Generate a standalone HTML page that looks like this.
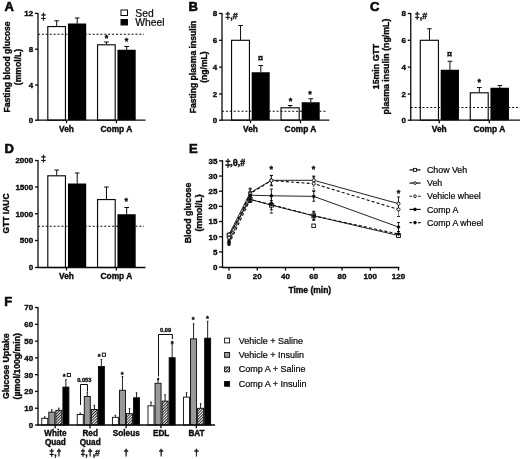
<!DOCTYPE html>
<html><head><meta charset="utf-8"><title>Figure</title>
<style>html,body{margin:0;padding:0;background:#fff}svg{display:block;font-family:"Liberation Sans",sans-serif}</style></head>
<body>
<svg width="520" height="459" viewBox="0 0 520 459">
<rect width="520" height="459" fill="#fff"/>
<line x1="38" y1="12.9" x2="38" y2="120.7" stroke="#0a0a0a" stroke-width="1.3"/>
<line x1="35" y1="13.4" x2="38" y2="13.4" stroke="#0a0a0a" stroke-width="1.3"/>
<text x="33.2" y="16.3" font-size="8" text-anchor="end" font-weight="bold" stroke="#0a0a0a" stroke-width="0.35" fill="#0a0a0a">12</text>
<line x1="35" y1="49.2" x2="38" y2="49.2" stroke="#0a0a0a" stroke-width="1.3"/>
<text x="33.2" y="52.1" font-size="8" text-anchor="end" font-weight="bold" stroke="#0a0a0a" stroke-width="0.35" fill="#0a0a0a">8</text>
<line x1="35" y1="85" x2="38" y2="85" stroke="#0a0a0a" stroke-width="1.3"/>
<text x="33.2" y="87.9" font-size="8" text-anchor="end" font-weight="bold" stroke="#0a0a0a" stroke-width="0.35" fill="#0a0a0a">4</text>
<line x1="35" y1="120.2" x2="38" y2="120.2" stroke="#0a0a0a" stroke-width="1.3"/>
<text x="33.2" y="123.10000000000001" font-size="8" text-anchor="end" font-weight="bold" stroke="#0a0a0a" stroke-width="0.35" fill="#0a0a0a">0</text>
<line x1="56.7" y1="20.75" x2="56.7" y2="26.25" stroke="#0a0a0a" stroke-width="1.0"/>
<line x1="54.400000000000006" y1="20.75" x2="59.0" y2="20.75" stroke="#0a0a0a" stroke-width="1.0"/>
<rect x="47.80" y="26.55" width="17.65" height="93.65" fill="#fff" stroke="#0a0a0a" stroke-width="1.15"/>
<line x1="77.2" y1="18" x2="77.2" y2="23.75" stroke="#0a0a0a" stroke-width="1.0"/>
<line x1="74.9" y1="18" x2="79.5" y2="18" stroke="#0a0a0a" stroke-width="1.0"/>
<rect x="67.95" y="23.50" width="18.25" height="96.70" fill="#000"/>
<line x1="106.45" y1="42" x2="106.45" y2="44.5" stroke="#0a0a0a" stroke-width="1.0"/>
<line x1="104.15" y1="42" x2="108.75" y2="42" stroke="#0a0a0a" stroke-width="1.0"/>
<rect x="97.55" y="44.80" width="17.65" height="75.40" fill="#fff" stroke="#0a0a0a" stroke-width="1.15"/>
<line x1="126.7" y1="46.5" x2="126.7" y2="50" stroke="#0a0a0a" stroke-width="1.0"/>
<line x1="124.4" y1="46.5" x2="129.0" y2="46.5" stroke="#0a0a0a" stroke-width="1.0"/>
<rect x="117.45" y="49.75" width="18.25" height="70.45" fill="#000"/>
<line x1="38" y1="34.3" x2="144" y2="34.3" stroke="#0a0a0a" stroke-width="1.05" stroke-dasharray="2 1.9"/>
<line x1="37.5" y1="120.2" x2="145.5" y2="120.2" stroke="#0a0a0a" stroke-width="1.3"/>
<line x1="66.5" y1="120.2" x2="66.5" y2="123.2" stroke="#0a0a0a" stroke-width="1.3"/>
<text x="66.5" y="132.1" font-size="8.4" text-anchor="middle" font-weight="bold" stroke="#0a0a0a" stroke-width="0.35" fill="#0a0a0a">Veh</text>
<line x1="116.4" y1="120.2" x2="116.4" y2="123.2" stroke="#0a0a0a" stroke-width="1.3"/>
<text x="116.4" y="132.1" font-size="8.4" text-anchor="middle" font-weight="bold" stroke="#0a0a0a" stroke-width="0.35" fill="#0a0a0a">Comp A</text>
<text x="4.5" y="11.4" font-size="13" text-anchor="start" font-weight="bold" stroke="#0a0a0a" stroke-width="0.6" fill="#0a0a0a">A</text>
<text x="10" y="67" font-size="8.6" text-anchor="middle" font-weight="bold" stroke="#0a0a0a" stroke-width="0.35" transform="rotate(-90 10 67)" fill="#0a0a0a">Fasting blood glucose</text>
<text x="21.3" y="67" font-size="8.6" text-anchor="middle" font-weight="bold" stroke="#0a0a0a" stroke-width="0.35" transform="rotate(-90 21.3 67)" fill="#0a0a0a">(mmol/L)</text>
<text x="43.6" y="19.5" font-size="9" text-anchor="middle" font-weight="bold" stroke="#0a0a0a" stroke-width="0.35" fill="#0a0a0a">‡</text>
<text x="106.5" y="41.3" font-size="9" text-anchor="middle" font-weight="bold" stroke="#0a0a0a" stroke-width="0.35" fill="#0a0a0a">*</text>
<text x="126.5" y="44" font-size="9" text-anchor="middle" font-weight="bold" stroke="#0a0a0a" stroke-width="0.35" fill="#0a0a0a">*</text>
<rect x="121.00" y="10.00" width="6.50" height="5.50" fill="#fff" stroke="#0a0a0a" stroke-width="1"/>
<rect x="121.00" y="19.50" width="6.50" height="5.50" fill="#000" stroke="#0a0a0a" stroke-width="1"/>
<text x="135.3" y="16.5" font-size="10.3" text-anchor="start" stroke="#0a0a0a" stroke-width="0.22" fill="#0a0a0a">Sed</text>
<text x="135.3" y="26.3" font-size="10.3" text-anchor="start" stroke="#0a0a0a" stroke-width="0.22" fill="#0a0a0a">Wheel</text>
<line x1="222" y1="12.9" x2="222" y2="120.7" stroke="#0a0a0a" stroke-width="1.3"/>
<line x1="219" y1="13.5" x2="222" y2="13.5" stroke="#0a0a0a" stroke-width="1.3"/>
<text x="217.2" y="16.4" font-size="8" text-anchor="end" font-weight="bold" stroke="#0a0a0a" stroke-width="0.35" fill="#0a0a0a">8</text>
<line x1="219" y1="40.3" x2="222" y2="40.3" stroke="#0a0a0a" stroke-width="1.3"/>
<text x="217.2" y="43.199999999999996" font-size="8" text-anchor="end" font-weight="bold" stroke="#0a0a0a" stroke-width="0.35" fill="#0a0a0a">6</text>
<line x1="219" y1="67.1" x2="222" y2="67.1" stroke="#0a0a0a" stroke-width="1.3"/>
<text x="217.2" y="70.0" font-size="8" text-anchor="end" font-weight="bold" stroke="#0a0a0a" stroke-width="0.35" fill="#0a0a0a">4</text>
<line x1="219" y1="94" x2="222" y2="94" stroke="#0a0a0a" stroke-width="1.3"/>
<text x="217.2" y="96.9" font-size="8" text-anchor="end" font-weight="bold" stroke="#0a0a0a" stroke-width="0.35" fill="#0a0a0a">2</text>
<line x1="219" y1="120.2" x2="222" y2="120.2" stroke="#0a0a0a" stroke-width="1.3"/>
<text x="217.2" y="123.10000000000001" font-size="8" text-anchor="end" font-weight="bold" stroke="#0a0a0a" stroke-width="0.35" fill="#0a0a0a">0</text>
<line x1="240.575" y1="25.5" x2="240.575" y2="40" stroke="#0a0a0a" stroke-width="1.0"/>
<line x1="238.27499999999998" y1="25.5" x2="242.875" y2="25.5" stroke="#0a0a0a" stroke-width="1.0"/>
<rect x="231.55" y="40.30" width="17.90" height="79.90" fill="#fff" stroke="#0a0a0a" stroke-width="1.15"/>
<line x1="260.825" y1="65.5" x2="260.825" y2="72.5" stroke="#0a0a0a" stroke-width="1.0"/>
<line x1="258.525" y1="65.5" x2="263.125" y2="65.5" stroke="#0a0a0a" stroke-width="1.0"/>
<rect x="251.70" y="72.25" width="18.00" height="47.95" fill="#000"/>
<line x1="290.2" y1="105.5" x2="290.2" y2="107.5" stroke="#0a0a0a" stroke-width="1.0"/>
<line x1="287.9" y1="105.5" x2="292.5" y2="105.5" stroke="#0a0a0a" stroke-width="1.0"/>
<rect x="281.05" y="107.80" width="18.15" height="12.40" fill="#fff" stroke="#0a0a0a" stroke-width="1.15"/>
<line x1="310.825" y1="98.75" x2="310.825" y2="102.5" stroke="#0a0a0a" stroke-width="1.0"/>
<line x1="308.525" y1="98.75" x2="313.125" y2="98.75" stroke="#0a0a0a" stroke-width="1.0"/>
<rect x="301.70" y="102.25" width="18.00" height="17.95" fill="#000"/>
<line x1="222" y1="111.2" x2="327" y2="111.2" stroke="#0a0a0a" stroke-width="1.05" stroke-dasharray="2 1.9"/>
<line x1="221.5" y1="120.2" x2="329.3" y2="120.2" stroke="#0a0a0a" stroke-width="1.3"/>
<line x1="250.5" y1="120.2" x2="250.5" y2="123.2" stroke="#0a0a0a" stroke-width="1.3"/>
<text x="250.5" y="132.1" font-size="8.4" text-anchor="middle" font-weight="bold" stroke="#0a0a0a" stroke-width="0.35" fill="#0a0a0a">Veh</text>
<line x1="300.5" y1="120.2" x2="300.5" y2="123.2" stroke="#0a0a0a" stroke-width="1.3"/>
<text x="300.5" y="132.1" font-size="8.4" text-anchor="middle" font-weight="bold" stroke="#0a0a0a" stroke-width="0.35" fill="#0a0a0a">Comp A</text>
<text x="188.5" y="11.4" font-size="13" text-anchor="start" font-weight="bold" stroke="#0a0a0a" stroke-width="0.6" fill="#0a0a0a">B</text>
<text x="195.6" y="67" font-size="8.6" text-anchor="middle" font-weight="bold" stroke="#0a0a0a" stroke-width="0.35" transform="rotate(-90 195.6 67)" fill="#0a0a0a">Fasting plasma insulin</text>
<text x="206.6" y="67" font-size="8.6" text-anchor="middle" font-weight="bold" stroke="#0a0a0a" stroke-width="0.35" transform="rotate(-90 206.6 67)" fill="#0a0a0a">(ng/mL)</text>
<text x="231.5" y="19.3" font-size="9" text-anchor="middle" font-weight="bold" stroke="#0a0a0a" stroke-width="0.35" fill="#0a0a0a">‡,#</text>
<text x="260.5" y="60.5" font-size="9" text-anchor="middle" font-weight="bold" stroke="#0a0a0a" stroke-width="0.35" fill="#0a0a0a">¤</text>
<text x="290.5" y="103.6" font-size="9" text-anchor="middle" font-weight="bold" stroke="#0a0a0a" stroke-width="0.35" fill="#0a0a0a">*</text>
<text x="310" y="97.4" font-size="9" text-anchor="middle" font-weight="bold" stroke="#0a0a0a" stroke-width="0.35" fill="#0a0a0a">*</text>
<line x1="410.75" y1="12.9" x2="410.75" y2="120.7" stroke="#0a0a0a" stroke-width="1.3"/>
<line x1="407.75" y1="13.5" x2="410.75" y2="13.5" stroke="#0a0a0a" stroke-width="1.3"/>
<text x="405.95" y="16.4" font-size="8" text-anchor="end" font-weight="bold" stroke="#0a0a0a" stroke-width="0.35" fill="#0a0a0a">8</text>
<line x1="407.75" y1="40.3" x2="410.75" y2="40.3" stroke="#0a0a0a" stroke-width="1.3"/>
<text x="405.95" y="43.199999999999996" font-size="8" text-anchor="end" font-weight="bold" stroke="#0a0a0a" stroke-width="0.35" fill="#0a0a0a">6</text>
<line x1="407.75" y1="67.1" x2="410.75" y2="67.1" stroke="#0a0a0a" stroke-width="1.3"/>
<text x="405.95" y="70.0" font-size="8" text-anchor="end" font-weight="bold" stroke="#0a0a0a" stroke-width="0.35" fill="#0a0a0a">4</text>
<line x1="407.75" y1="94" x2="410.75" y2="94" stroke="#0a0a0a" stroke-width="1.3"/>
<text x="405.95" y="96.9" font-size="8" text-anchor="end" font-weight="bold" stroke="#0a0a0a" stroke-width="0.35" fill="#0a0a0a">2</text>
<line x1="407.75" y1="120.2" x2="410.75" y2="120.2" stroke="#0a0a0a" stroke-width="1.3"/>
<text x="405.95" y="123.10000000000001" font-size="8" text-anchor="end" font-weight="bold" stroke="#0a0a0a" stroke-width="0.35" fill="#0a0a0a">0</text>
<line x1="429.45" y1="28.75" x2="429.45" y2="40" stroke="#0a0a0a" stroke-width="1.0"/>
<line x1="427.15" y1="28.75" x2="431.75" y2="28.75" stroke="#0a0a0a" stroke-width="1.0"/>
<rect x="420.30" y="40.30" width="18.15" height="79.90" fill="#fff" stroke="#0a0a0a" stroke-width="1.15"/>
<line x1="449.95" y1="61.25" x2="449.95" y2="70" stroke="#0a0a0a" stroke-width="1.0"/>
<line x1="447.65" y1="61.25" x2="452.25" y2="61.25" stroke="#0a0a0a" stroke-width="1.0"/>
<rect x="440.70" y="69.75" width="18.25" height="50.45" fill="#000"/>
<line x1="479.325" y1="87.5" x2="479.325" y2="92.5" stroke="#0a0a0a" stroke-width="1.0"/>
<line x1="477.025" y1="87.5" x2="481.625" y2="87.5" stroke="#0a0a0a" stroke-width="1.0"/>
<rect x="470.30" y="92.80" width="17.90" height="27.40" fill="#fff" stroke="#0a0a0a" stroke-width="1.15"/>
<line x1="499.825" y1="85.5" x2="499.825" y2="88" stroke="#0a0a0a" stroke-width="1.0"/>
<line x1="497.525" y1="85.5" x2="502.125" y2="85.5" stroke="#0a0a0a" stroke-width="1.0"/>
<rect x="490.45" y="87.75" width="18.50" height="32.45" fill="#000"/>
<line x1="410.75" y1="107.5" x2="520" y2="107.5" stroke="#0a0a0a" stroke-width="1.05" stroke-dasharray="2 1.9"/>
<line x1="410.25" y1="120.2" x2="520" y2="120.2" stroke="#0a0a0a" stroke-width="1.3"/>
<line x1="439.3" y1="120.2" x2="439.3" y2="123.2" stroke="#0a0a0a" stroke-width="1.3"/>
<text x="439.3" y="132.1" font-size="8.4" text-anchor="middle" font-weight="bold" stroke="#0a0a0a" stroke-width="0.35" fill="#0a0a0a">Veh</text>
<line x1="489.3" y1="120.2" x2="489.3" y2="123.2" stroke="#0a0a0a" stroke-width="1.3"/>
<text x="489.3" y="132.1" font-size="8.4" text-anchor="middle" font-weight="bold" stroke="#0a0a0a" stroke-width="0.35" fill="#0a0a0a">Comp A</text>
<text x="370" y="11.4" font-size="13" text-anchor="start" font-weight="bold" stroke="#0a0a0a" stroke-width="0.6" fill="#0a0a0a">C</text>
<text x="378.5" y="66.5" font-size="8.8" text-anchor="middle" font-weight="bold" stroke="#0a0a0a" stroke-width="0.35" transform="rotate(-90 378.5 66.5)" fill="#0a0a0a">15min GTT</text>
<text x="389.4" y="66.5" font-size="8.8" text-anchor="middle" font-weight="bold" stroke="#0a0a0a" stroke-width="0.35" transform="rotate(-90 389.4 66.5)" fill="#0a0a0a">plasma insulin (ng/mL)</text>
<text x="421" y="19.3" font-size="9" text-anchor="middle" font-weight="bold" stroke="#0a0a0a" stroke-width="0.35" fill="#0a0a0a">‡,#</text>
<text x="449.5" y="56.5" font-size="9" text-anchor="middle" font-weight="bold" stroke="#0a0a0a" stroke-width="0.35" fill="#0a0a0a">¤</text>
<text x="479.3" y="84.8" font-size="9" text-anchor="middle" font-weight="bold" stroke="#0a0a0a" stroke-width="0.35" fill="#0a0a0a">*</text>
<line x1="38" y1="160.0" x2="38" y2="268.0" stroke="#0a0a0a" stroke-width="1.3"/>
<line x1="35" y1="160.5" x2="38" y2="160.5" stroke="#0a0a0a" stroke-width="1.3"/>
<text x="33.2" y="163.4" font-size="8" text-anchor="end" font-weight="bold" stroke="#0a0a0a" stroke-width="0.35" fill="#0a0a0a">2000</text>
<line x1="35" y1="187" x2="38" y2="187" stroke="#0a0a0a" stroke-width="1.3"/>
<text x="33.2" y="189.9" font-size="8" text-anchor="end" font-weight="bold" stroke="#0a0a0a" stroke-width="0.35" fill="#0a0a0a">1500</text>
<line x1="35" y1="213.75" x2="38" y2="213.75" stroke="#0a0a0a" stroke-width="1.3"/>
<text x="33.2" y="216.65" font-size="8" text-anchor="end" font-weight="bold" stroke="#0a0a0a" stroke-width="0.35" fill="#0a0a0a">1000</text>
<line x1="35" y1="240.5" x2="38" y2="240.5" stroke="#0a0a0a" stroke-width="1.3"/>
<text x="33.2" y="243.4" font-size="8" text-anchor="end" font-weight="bold" stroke="#0a0a0a" stroke-width="0.35" fill="#0a0a0a">500</text>
<line x1="35" y1="267.5" x2="38" y2="267.5" stroke="#0a0a0a" stroke-width="1.3"/>
<text x="33.2" y="270.4" font-size="8" text-anchor="end" font-weight="bold" stroke="#0a0a0a" stroke-width="0.35" fill="#0a0a0a">0</text>
<line x1="56.7" y1="170" x2="56.7" y2="175.5" stroke="#0a0a0a" stroke-width="1.0"/>
<line x1="54.400000000000006" y1="170" x2="59.0" y2="170" stroke="#0a0a0a" stroke-width="1.0"/>
<rect x="47.80" y="175.80" width="17.65" height="91.70" fill="#fff" stroke="#0a0a0a" stroke-width="1.15"/>
<line x1="77.2" y1="173" x2="77.2" y2="183.75" stroke="#0a0a0a" stroke-width="1.0"/>
<line x1="74.9" y1="173" x2="79.5" y2="173" stroke="#0a0a0a" stroke-width="1.0"/>
<rect x="67.95" y="183.50" width="18.25" height="84.00" fill="#000"/>
<line x1="106.45" y1="187" x2="106.45" y2="199.25" stroke="#0a0a0a" stroke-width="1.0"/>
<line x1="104.15" y1="187" x2="108.75" y2="187" stroke="#0a0a0a" stroke-width="1.0"/>
<rect x="97.55" y="199.55" width="17.65" height="67.95" fill="#fff" stroke="#0a0a0a" stroke-width="1.15"/>
<line x1="126.7" y1="207.5" x2="126.7" y2="214.5" stroke="#0a0a0a" stroke-width="1.0"/>
<line x1="124.4" y1="207.5" x2="129.0" y2="207.5" stroke="#0a0a0a" stroke-width="1.0"/>
<rect x="117.45" y="214.25" width="18.25" height="53.25" fill="#000"/>
<line x1="38" y1="226.3" x2="144" y2="226.3" stroke="#0a0a0a" stroke-width="1.05" stroke-dasharray="2 1.9"/>
<line x1="37.5" y1="267.5" x2="145.5" y2="267.5" stroke="#0a0a0a" stroke-width="1.3"/>
<line x1="66.5" y1="267.5" x2="66.5" y2="270.5" stroke="#0a0a0a" stroke-width="1.3"/>
<text x="66.5" y="279.4" font-size="8.4" text-anchor="middle" font-weight="bold" stroke="#0a0a0a" stroke-width="0.35" fill="#0a0a0a">Veh</text>
<line x1="116.4" y1="267.5" x2="116.4" y2="270.5" stroke="#0a0a0a" stroke-width="1.3"/>
<text x="116.4" y="279.4" font-size="8.4" text-anchor="middle" font-weight="bold" stroke="#0a0a0a" stroke-width="0.35" fill="#0a0a0a">Comp A</text>
<text x="4.5" y="153" font-size="13" text-anchor="start" font-weight="bold" stroke="#0a0a0a" stroke-width="0.6" fill="#0a0a0a">D</text>
<text x="9.3" y="213.5" font-size="8.5" text-anchor="middle" font-weight="bold" stroke="#0a0a0a" stroke-width="0.35" transform="rotate(-90 9.3 213.5)" fill="#0a0a0a">GTT IAUC</text>
<text x="43.6" y="161.5" font-size="9" text-anchor="middle" font-weight="bold" stroke="#0a0a0a" stroke-width="0.35" fill="#0a0a0a">‡</text>
<text x="126.3" y="204.3" font-size="9" text-anchor="middle" font-weight="bold" stroke="#0a0a0a" stroke-width="0.35" fill="#0a0a0a">*</text>
<line x1="222.5" y1="160.2" x2="222.5" y2="268.0" stroke="#0a0a0a" stroke-width="1.3"/>
<line x1="219.0" y1="267.1" x2="222.5" y2="267.1" stroke="#0a0a0a" stroke-width="1.3"/>
<text x="217.5" y="270.0" font-size="8" text-anchor="end" font-weight="bold" stroke="#0a0a0a" stroke-width="0.35" fill="#0a0a0a">0</text>
<line x1="219.0" y1="251.925" x2="222.5" y2="251.925" stroke="#0a0a0a" stroke-width="1.3"/>
<text x="217.5" y="254.82500000000002" font-size="8" text-anchor="end" font-weight="bold" stroke="#0a0a0a" stroke-width="0.35" fill="#0a0a0a">5</text>
<line x1="219.0" y1="236.75000000000003" x2="222.5" y2="236.75000000000003" stroke="#0a0a0a" stroke-width="1.3"/>
<text x="217.5" y="239.65000000000003" font-size="8" text-anchor="end" font-weight="bold" stroke="#0a0a0a" stroke-width="0.35" fill="#0a0a0a">10</text>
<line x1="219.0" y1="221.57500000000002" x2="222.5" y2="221.57500000000002" stroke="#0a0a0a" stroke-width="1.3"/>
<text x="217.5" y="224.47500000000002" font-size="8" text-anchor="end" font-weight="bold" stroke="#0a0a0a" stroke-width="0.35" fill="#0a0a0a">15</text>
<line x1="219.0" y1="206.40000000000003" x2="222.5" y2="206.40000000000003" stroke="#0a0a0a" stroke-width="1.3"/>
<text x="217.5" y="209.30000000000004" font-size="8" text-anchor="end" font-weight="bold" stroke="#0a0a0a" stroke-width="0.35" fill="#0a0a0a">20</text>
<line x1="219.0" y1="191.22500000000002" x2="222.5" y2="191.22500000000002" stroke="#0a0a0a" stroke-width="1.3"/>
<text x="217.5" y="194.12500000000003" font-size="8" text-anchor="end" font-weight="bold" stroke="#0a0a0a" stroke-width="0.35" fill="#0a0a0a">25</text>
<line x1="219.0" y1="176.05" x2="222.5" y2="176.05" stroke="#0a0a0a" stroke-width="1.3"/>
<text x="217.5" y="178.95000000000002" font-size="8" text-anchor="end" font-weight="bold" stroke="#0a0a0a" stroke-width="0.35" fill="#0a0a0a">30</text>
<line x1="219.0" y1="160.875" x2="222.5" y2="160.875" stroke="#0a0a0a" stroke-width="1.3"/>
<text x="217.5" y="163.775" font-size="8" text-anchor="end" font-weight="bold" stroke="#0a0a0a" stroke-width="0.35" fill="#0a0a0a">35</text>
<line x1="222.0" y1="267.5" x2="399.3" y2="267.5" stroke="#0a0a0a" stroke-width="1.3"/>
<line x1="229.0" y1="267.5" x2="229.0" y2="270.5" stroke="#0a0a0a" stroke-width="1.3"/>
<text x="229.0" y="279.0" font-size="8" text-anchor="middle" font-weight="bold" stroke="#0a0a0a" stroke-width="0.35" fill="#0a0a0a">0</text>
<line x1="257.25" y1="267.5" x2="257.25" y2="270.5" stroke="#0a0a0a" stroke-width="1.3"/>
<text x="257.25" y="279.0" font-size="8" text-anchor="middle" font-weight="bold" stroke="#0a0a0a" stroke-width="0.35" fill="#0a0a0a">20</text>
<line x1="285.5" y1="267.5" x2="285.5" y2="270.5" stroke="#0a0a0a" stroke-width="1.3"/>
<text x="285.5" y="279.0" font-size="8" text-anchor="middle" font-weight="bold" stroke="#0a0a0a" stroke-width="0.35" fill="#0a0a0a">40</text>
<line x1="313.75" y1="267.5" x2="313.75" y2="270.5" stroke="#0a0a0a" stroke-width="1.3"/>
<text x="313.75" y="279.0" font-size="8" text-anchor="middle" font-weight="bold" stroke="#0a0a0a" stroke-width="0.35" fill="#0a0a0a">60</text>
<line x1="342.0" y1="267.5" x2="342.0" y2="270.5" stroke="#0a0a0a" stroke-width="1.3"/>
<text x="342.0" y="279.0" font-size="8" text-anchor="middle" font-weight="bold" stroke="#0a0a0a" stroke-width="0.35" fill="#0a0a0a">80</text>
<line x1="370.25" y1="267.5" x2="370.25" y2="270.5" stroke="#0a0a0a" stroke-width="1.3"/>
<text x="370.25" y="279.0" font-size="8" text-anchor="middle" font-weight="bold" stroke="#0a0a0a" stroke-width="0.35" fill="#0a0a0a">100</text>
<line x1="398.5" y1="267.5" x2="398.5" y2="270.5" stroke="#0a0a0a" stroke-width="1.3"/>
<text x="398.5" y="279.0" font-size="8" text-anchor="middle" font-weight="bold" stroke="#0a0a0a" stroke-width="0.35" fill="#0a0a0a">120</text>
<text x="309.8" y="292.8" font-size="8.5" text-anchor="middle" font-weight="bold" stroke="#0a0a0a" stroke-width="0.35" fill="#0a0a0a">Time (min)</text>
<text x="190.8" y="213" font-size="8.8" text-anchor="middle" font-weight="bold" stroke="#0a0a0a" stroke-width="0.35" transform="rotate(-90 190.8 213)" fill="#0a0a0a">Blood glucose</text>
<text x="201.5" y="213" font-size="8.8" text-anchor="middle" font-weight="bold" stroke="#0a0a0a" stroke-width="0.35" transform="rotate(-90 201.5 213)" fill="#0a0a0a">(mmol/L)</text>
<text x="189" y="153" font-size="13" text-anchor="start" font-weight="bold" stroke="#0a0a0a" stroke-width="0.6" fill="#0a0a0a">E</text>
<text x="225.5" y="166.2" font-size="9.7" text-anchor="start" font-weight="bold" stroke="#0a0a0a" stroke-width="0.35" font-family="'Liberation Serif',serif" fill="#0a0a0a">‡,θ,#</text>
<polyline points="229.00,235.23 250.19,199.42 271.38,205.19 313.75,215.81 398.50,235.54" fill="none" stroke="#0a0a0a" stroke-width="0.9"/>
<polyline points="229.00,234.63 250.19,192.74 271.38,180.30 313.75,180.30 398.50,203.67" fill="none" stroke="#0a0a0a" stroke-width="0.9"/>
<polyline points="229.00,237.81 250.19,193.65 271.38,180.60 313.75,183.64 398.50,209.44" fill="none" stroke="#0a0a0a" stroke-width="1.1" stroke-dasharray="3 2.2"/>
<polyline points="229.00,241.61 250.19,195.17 271.38,195.78 313.75,196.38 398.50,227.04" fill="none" stroke="#0a0a0a" stroke-width="0.9"/>
<polyline points="229.00,244.03 250.19,199.42 271.38,204.58 313.75,215.81 398.50,234.02" fill="none" stroke="#0a0a0a" stroke-width="1.1" stroke-dasharray="3 2.2"/>
<line x1="229.0" y1="233.71500000000003" x2="229.0" y2="236.75000000000003" stroke="#0a0a0a" stroke-width="0.9"/>
<line x1="227.5" y1="233.71500000000003" x2="230.5" y2="233.71500000000003" stroke="#0a0a0a" stroke-width="0.9"/>
<line x1="227.5" y1="236.75000000000003" x2="230.5" y2="236.75000000000003" stroke="#0a0a0a" stroke-width="0.9"/>
<line x1="250.1875" y1="196.3845" x2="250.1875" y2="202.45450000000002" stroke="#0a0a0a" stroke-width="0.9"/>
<line x1="248.6875" y1="196.3845" x2="251.6875" y2="196.3845" stroke="#0a0a0a" stroke-width="0.9"/>
<line x1="248.6875" y1="202.45450000000002" x2="251.6875" y2="202.45450000000002" stroke="#0a0a0a" stroke-width="0.9"/>
<line x1="271.375" y1="200.63350000000003" x2="271.375" y2="209.73850000000002" stroke="#0a0a0a" stroke-width="0.9"/>
<line x1="269.875" y1="200.63350000000003" x2="272.875" y2="200.63350000000003" stroke="#0a0a0a" stroke-width="0.9"/>
<line x1="269.875" y1="209.73850000000002" x2="272.875" y2="209.73850000000002" stroke="#0a0a0a" stroke-width="0.9"/>
<line x1="313.75" y1="212.16650000000004" x2="313.75" y2="219.45050000000003" stroke="#0a0a0a" stroke-width="0.9"/>
<line x1="312.25" y1="212.16650000000004" x2="315.25" y2="212.16650000000004" stroke="#0a0a0a" stroke-width="0.9"/>
<line x1="312.25" y1="219.45050000000003" x2="315.25" y2="219.45050000000003" stroke="#0a0a0a" stroke-width="0.9"/>
<line x1="398.5" y1="234.01850000000002" x2="398.5" y2="237.0535" stroke="#0a0a0a" stroke-width="0.9"/>
<line x1="397.0" y1="234.01850000000002" x2="400.0" y2="234.01850000000002" stroke="#0a0a0a" stroke-width="0.9"/>
<line x1="397.0" y1="237.0535" x2="400.0" y2="237.0535" stroke="#0a0a0a" stroke-width="0.9"/>
<line x1="229.0" y1="233.10800000000003" x2="229.0" y2="236.14300000000003" stroke="#0a0a0a" stroke-width="0.9"/>
<line x1="227.5" y1="233.10800000000003" x2="230.5" y2="233.10800000000003" stroke="#0a0a0a" stroke-width="0.9"/>
<line x1="227.5" y1="236.14300000000003" x2="230.5" y2="236.14300000000003" stroke="#0a0a0a" stroke-width="0.9"/>
<line x1="250.1875" y1="188.19000000000003" x2="250.1875" y2="197.29500000000002" stroke="#0a0a0a" stroke-width="0.9"/>
<line x1="248.6875" y1="188.19000000000003" x2="251.6875" y2="188.19000000000003" stroke="#0a0a0a" stroke-width="0.9"/>
<line x1="248.6875" y1="197.29500000000002" x2="251.6875" y2="197.29500000000002" stroke="#0a0a0a" stroke-width="0.9"/>
<line x1="271.375" y1="175.443" x2="271.375" y2="185.15500000000003" stroke="#0a0a0a" stroke-width="0.9"/>
<line x1="269.875" y1="175.443" x2="272.875" y2="175.443" stroke="#0a0a0a" stroke-width="0.9"/>
<line x1="269.875" y1="185.15500000000003" x2="272.875" y2="185.15500000000003" stroke="#0a0a0a" stroke-width="0.9"/>
<line x1="313.75" y1="176.05" x2="313.75" y2="184.548" stroke="#0a0a0a" stroke-width="0.9"/>
<line x1="312.25" y1="176.05" x2="315.25" y2="176.05" stroke="#0a0a0a" stroke-width="0.9"/>
<line x1="312.25" y1="184.548" x2="315.25" y2="184.548" stroke="#0a0a0a" stroke-width="0.9"/>
<line x1="398.5" y1="196.99150000000003" x2="398.5" y2="210.34550000000002" stroke="#0a0a0a" stroke-width="0.9"/>
<line x1="397.0" y1="196.99150000000003" x2="400.0" y2="196.99150000000003" stroke="#0a0a0a" stroke-width="0.9"/>
<line x1="397.0" y1="210.34550000000002" x2="400.0" y2="210.34550000000002" stroke="#0a0a0a" stroke-width="0.9"/>
<line x1="229.0" y1="236.29475000000002" x2="229.0" y2="239.32975000000002" stroke="#0a0a0a" stroke-width="0.9" stroke-dasharray="1.2 1"/>
<line x1="227.5" y1="236.29475000000002" x2="230.5" y2="236.29475000000002" stroke="#0a0a0a" stroke-width="0.9"/>
<line x1="227.5" y1="239.32975000000002" x2="230.5" y2="239.32975000000002" stroke="#0a0a0a" stroke-width="0.9"/>
<line x1="250.1875" y1="189.1005" x2="250.1875" y2="198.20550000000003" stroke="#0a0a0a" stroke-width="0.9" stroke-dasharray="1.2 1"/>
<line x1="248.6875" y1="189.1005" x2="251.6875" y2="189.1005" stroke="#0a0a0a" stroke-width="0.9"/>
<line x1="248.6875" y1="198.20550000000003" x2="251.6875" y2="198.20550000000003" stroke="#0a0a0a" stroke-width="0.9"/>
<line x1="271.375" y1="175.44300000000004" x2="271.375" y2="185.762" stroke="#0a0a0a" stroke-width="0.9" stroke-dasharray="1.2 1"/>
<line x1="269.875" y1="175.44300000000004" x2="272.875" y2="175.44300000000004" stroke="#0a0a0a" stroke-width="0.9"/>
<line x1="269.875" y1="185.762" x2="272.875" y2="185.762" stroke="#0a0a0a" stroke-width="0.9"/>
<line x1="313.75" y1="176.96050000000002" x2="313.75" y2="190.3145" stroke="#0a0a0a" stroke-width="0.9" stroke-dasharray="1.2 1"/>
<line x1="312.25" y1="176.96050000000002" x2="315.25" y2="176.96050000000002" stroke="#0a0a0a" stroke-width="0.9"/>
<line x1="312.25" y1="190.3145" x2="315.25" y2="190.3145" stroke="#0a0a0a" stroke-width="0.9"/>
<line x1="398.5" y1="202.45450000000002" x2="398.5" y2="216.4155" stroke="#0a0a0a" stroke-width="0.9" stroke-dasharray="1.2 1"/>
<line x1="397.0" y1="202.45450000000002" x2="400.0" y2="202.45450000000002" stroke="#0a0a0a" stroke-width="0.9"/>
<line x1="397.0" y1="216.4155" x2="400.0" y2="216.4155" stroke="#0a0a0a" stroke-width="0.9"/>
<line x1="229.0" y1="240.39200000000002" x2="229.0" y2="242.82000000000002" stroke="#0a0a0a" stroke-width="0.9"/>
<line x1="227.5" y1="240.39200000000002" x2="230.5" y2="240.39200000000002" stroke="#0a0a0a" stroke-width="0.9"/>
<line x1="227.5" y1="242.82000000000002" x2="230.5" y2="242.82000000000002" stroke="#0a0a0a" stroke-width="0.9"/>
<line x1="250.1875" y1="191.5285" x2="250.1875" y2="198.8125" stroke="#0a0a0a" stroke-width="0.9"/>
<line x1="248.6875" y1="191.5285" x2="251.6875" y2="191.5285" stroke="#0a0a0a" stroke-width="0.9"/>
<line x1="248.6875" y1="198.8125" x2="251.6875" y2="198.8125" stroke="#0a0a0a" stroke-width="0.9"/>
<line x1="271.375" y1="189.1005" x2="271.375" y2="202.45450000000002" stroke="#0a0a0a" stroke-width="0.9"/>
<line x1="269.875" y1="189.1005" x2="272.875" y2="189.1005" stroke="#0a0a0a" stroke-width="0.9"/>
<line x1="269.875" y1="202.45450000000002" x2="272.875" y2="202.45450000000002" stroke="#0a0a0a" stroke-width="0.9"/>
<line x1="313.75" y1="191.5285" x2="313.75" y2="201.24050000000003" stroke="#0a0a0a" stroke-width="0.9"/>
<line x1="312.25" y1="191.5285" x2="315.25" y2="191.5285" stroke="#0a0a0a" stroke-width="0.9"/>
<line x1="312.25" y1="201.24050000000003" x2="315.25" y2="201.24050000000003" stroke="#0a0a0a" stroke-width="0.9"/>
<line x1="398.5" y1="222.48550000000003" x2="398.5" y2="231.59050000000002" stroke="#0a0a0a" stroke-width="0.9"/>
<line x1="397.0" y1="222.48550000000003" x2="400.0" y2="222.48550000000003" stroke="#0a0a0a" stroke-width="0.9"/>
<line x1="397.0" y1="231.59050000000002" x2="400.0" y2="231.59050000000002" stroke="#0a0a0a" stroke-width="0.9"/>
<line x1="229.0" y1="242.82000000000002" x2="229.0" y2="245.24800000000002" stroke="#0a0a0a" stroke-width="0.9" stroke-dasharray="1.2 1"/>
<line x1="227.5" y1="242.82000000000002" x2="230.5" y2="242.82000000000002" stroke="#0a0a0a" stroke-width="0.9"/>
<line x1="227.5" y1="245.24800000000002" x2="230.5" y2="245.24800000000002" stroke="#0a0a0a" stroke-width="0.9"/>
<line x1="250.1875" y1="196.3845" x2="250.1875" y2="202.45450000000002" stroke="#0a0a0a" stroke-width="0.9" stroke-dasharray="1.2 1"/>
<line x1="248.6875" y1="196.3845" x2="251.6875" y2="196.3845" stroke="#0a0a0a" stroke-width="0.9"/>
<line x1="248.6875" y1="202.45450000000002" x2="251.6875" y2="202.45450000000002" stroke="#0a0a0a" stroke-width="0.9"/>
<line x1="271.375" y1="196.08100000000002" x2="271.375" y2="213.07700000000003" stroke="#0a0a0a" stroke-width="0.9" stroke-dasharray="1.2 1"/>
<line x1="269.875" y1="196.08100000000002" x2="272.875" y2="196.08100000000002" stroke="#0a0a0a" stroke-width="0.9"/>
<line x1="269.875" y1="213.07700000000003" x2="272.875" y2="213.07700000000003" stroke="#0a0a0a" stroke-width="0.9"/>
<line x1="313.75" y1="211.25600000000003" x2="313.75" y2="220.36100000000002" stroke="#0a0a0a" stroke-width="0.9" stroke-dasharray="1.2 1"/>
<line x1="312.25" y1="211.25600000000003" x2="315.25" y2="211.25600000000003" stroke="#0a0a0a" stroke-width="0.9"/>
<line x1="312.25" y1="220.36100000000002" x2="315.25" y2="220.36100000000002" stroke="#0a0a0a" stroke-width="0.9"/>
<line x1="398.5" y1="231.59050000000002" x2="398.5" y2="236.44650000000001" stroke="#0a0a0a" stroke-width="0.9" stroke-dasharray="1.2 1"/>
<line x1="397.0" y1="231.59050000000002" x2="400.0" y2="231.59050000000002" stroke="#0a0a0a" stroke-width="0.9"/>
<line x1="397.0" y1="236.44650000000001" x2="400.0" y2="236.44650000000001" stroke="#0a0a0a" stroke-width="0.9"/>
<rect x="227.10" y="233.33" width="3.8" height="3.8" fill="#fff" stroke="#0a0a0a" stroke-width="0.9"/>
<rect x="248.29" y="197.52" width="3.8" height="3.8" fill="#fff" stroke="#0a0a0a" stroke-width="0.9"/>
<rect x="269.48" y="203.29" width="3.8" height="3.8" fill="#fff" stroke="#0a0a0a" stroke-width="0.9"/>
<rect x="311.85" y="213.91" width="3.8" height="3.8" fill="#fff" stroke="#0a0a0a" stroke-width="0.9"/>
<rect x="396.60" y="233.64" width="3.8" height="3.8" fill="#fff" stroke="#0a0a0a" stroke-width="0.9"/>
<circle cx="229.00" cy="234.63" r="1.55" fill="#fff" stroke="#0a0a0a" stroke-width="0.9"/>
<circle cx="250.19" cy="192.74" r="1.55" fill="#fff" stroke="#0a0a0a" stroke-width="0.9"/>
<circle cx="271.38" cy="180.30" r="1.55" fill="#fff" stroke="#0a0a0a" stroke-width="0.9"/>
<circle cx="313.75" cy="180.30" r="1.55" fill="#fff" stroke="#0a0a0a" stroke-width="0.9"/>
<circle cx="398.50" cy="203.67" r="1.55" fill="#fff" stroke="#0a0a0a" stroke-width="0.9"/>
<circle cx="229.00" cy="237.81" r="1.55" fill="#fff" stroke="#0a0a0a" stroke-width="0.9"/>
<circle cx="250.19" cy="193.65" r="1.55" fill="#fff" stroke="#0a0a0a" stroke-width="0.9"/>
<circle cx="271.38" cy="180.60" r="1.55" fill="#fff" stroke="#0a0a0a" stroke-width="0.9"/>
<circle cx="313.75" cy="183.64" r="1.55" fill="#fff" stroke="#0a0a0a" stroke-width="0.9"/>
<circle cx="398.50" cy="209.44" r="1.55" fill="#fff" stroke="#0a0a0a" stroke-width="0.9"/>
<circle cx="229.00" cy="241.61" r="1.3" fill="#000" stroke="#0a0a0a" stroke-width="0.9"/>
<circle cx="250.19" cy="195.17" r="1.3" fill="#000" stroke="#0a0a0a" stroke-width="0.9"/>
<circle cx="271.38" cy="195.78" r="1.3" fill="#000" stroke="#0a0a0a" stroke-width="0.9"/>
<circle cx="313.75" cy="196.38" r="1.3" fill="#000" stroke="#0a0a0a" stroke-width="0.9"/>
<circle cx="398.50" cy="227.04" r="1.3" fill="#000" stroke="#0a0a0a" stroke-width="0.9"/>
<circle cx="229.00" cy="244.03" r="1.3" fill="#000" stroke="#0a0a0a" stroke-width="0.9"/>
<circle cx="250.19" cy="199.42" r="1.3" fill="#000" stroke="#0a0a0a" stroke-width="0.9"/>
<circle cx="271.38" cy="204.58" r="1.3" fill="#000" stroke="#0a0a0a" stroke-width="0.9"/>
<circle cx="313.75" cy="215.81" r="1.3" fill="#000" stroke="#0a0a0a" stroke-width="0.9"/>
<circle cx="398.50" cy="234.02" r="1.3" fill="#000" stroke="#0a0a0a" stroke-width="0.9"/>
<text x="271.3" y="172.3" font-size="9" text-anchor="middle" font-weight="bold" stroke="#0a0a0a" stroke-width="0.35" fill="#0a0a0a">*</text>
<text x="313.6" y="172.3" font-size="9" text-anchor="middle" font-weight="bold" stroke="#0a0a0a" stroke-width="0.35" fill="#0a0a0a">*</text>
<text x="398.6" y="196.3" font-size="9" text-anchor="middle" font-weight="bold" stroke="#0a0a0a" stroke-width="0.35" fill="#0a0a0a">*</text>
<rect x="311.85" y="224.05" width="3.5" height="3.5" fill="#fff" stroke="#0a0a0a" stroke-width="0.9"/>
<line x1="409.5" y1="169.9" x2="420.6" y2="169.9" stroke="#0a0a0a" stroke-width="1.2"/>
<rect x="413.50" y="168.40" width="3.0" height="3.0" fill="#fff" stroke="#0a0a0a" stroke-width="0.9"/>
<text x="427" y="173.0" font-size="8.8" text-anchor="start" stroke="#0a0a0a" stroke-width="0.22" fill="#0a0a0a">Chow Veh</text>
<line x1="409.5" y1="183.07" x2="420.6" y2="183.07" stroke="#0a0a0a" stroke-width="1.2"/>
<circle cx="415.00" cy="183.07" r="1.35" fill="#fff" stroke="#0a0a0a" stroke-width="0.9"/>
<text x="427" y="186.17" font-size="8.8" text-anchor="start" stroke="#0a0a0a" stroke-width="0.22" fill="#0a0a0a">Veh</text>
<line x1="409.5" y1="196.24" x2="420.6" y2="196.24" stroke="#0a0a0a" stroke-width="1.2" stroke-dasharray="2.4 6.2 2.5"/>
<circle cx="415.00" cy="196.24" r="1.35" fill="#fff" stroke="#0a0a0a" stroke-width="0.9"/>
<text x="427" y="199.34" font-size="8.8" text-anchor="start" stroke="#0a0a0a" stroke-width="0.22" fill="#0a0a0a">Vehicle wheel</text>
<line x1="409.5" y1="209.41" x2="420.6" y2="209.41" stroke="#0a0a0a" stroke-width="1.2"/>
<circle cx="415.00" cy="209.41" r="1.35" fill="#000" stroke="#0a0a0a" stroke-width="0.9"/>
<text x="427" y="212.51" font-size="8.8" text-anchor="start" stroke="#0a0a0a" stroke-width="0.22" fill="#0a0a0a">Comp A</text>
<line x1="409.5" y1="222.58" x2="420.6" y2="222.58" stroke="#0a0a0a" stroke-width="1.2" stroke-dasharray="2.4 6.2 2.5"/>
<circle cx="415.00" cy="222.58" r="1.35" fill="#000" stroke="#0a0a0a" stroke-width="0.9"/>
<text x="427" y="225.68" font-size="8.8" text-anchor="start" stroke="#0a0a0a" stroke-width="0.22" fill="#0a0a0a">Comp A wheel</text>
<line x1="38" y1="307" x2="38" y2="425.5" stroke="#0a0a0a" stroke-width="1.3"/>
<line x1="35" y1="425.0" x2="38" y2="425.0" stroke="#0a0a0a" stroke-width="1.3"/>
<text x="33.2" y="427.9" font-size="8" text-anchor="end" font-weight="bold" stroke="#0a0a0a" stroke-width="0.35" fill="#0a0a0a">0</text>
<line x1="35" y1="408.22" x2="38" y2="408.22" stroke="#0a0a0a" stroke-width="1.3"/>
<text x="33.2" y="411.12" font-size="8" text-anchor="end" font-weight="bold" stroke="#0a0a0a" stroke-width="0.35" fill="#0a0a0a">10</text>
<line x1="35" y1="391.44" x2="38" y2="391.44" stroke="#0a0a0a" stroke-width="1.3"/>
<text x="33.2" y="394.34" font-size="8" text-anchor="end" font-weight="bold" stroke="#0a0a0a" stroke-width="0.35" fill="#0a0a0a">20</text>
<line x1="35" y1="374.66" x2="38" y2="374.66" stroke="#0a0a0a" stroke-width="1.3"/>
<text x="33.2" y="377.56" font-size="8" text-anchor="end" font-weight="bold" stroke="#0a0a0a" stroke-width="0.35" fill="#0a0a0a">30</text>
<line x1="35" y1="357.88" x2="38" y2="357.88" stroke="#0a0a0a" stroke-width="1.3"/>
<text x="33.2" y="360.78" font-size="8" text-anchor="end" font-weight="bold" stroke="#0a0a0a" stroke-width="0.35" fill="#0a0a0a">40</text>
<line x1="35" y1="341.1" x2="38" y2="341.1" stroke="#0a0a0a" stroke-width="1.3"/>
<text x="33.2" y="344.0" font-size="8" text-anchor="end" font-weight="bold" stroke="#0a0a0a" stroke-width="0.35" fill="#0a0a0a">50</text>
<line x1="35" y1="324.32" x2="38" y2="324.32" stroke="#0a0a0a" stroke-width="1.3"/>
<text x="33.2" y="327.21999999999997" font-size="8" text-anchor="end" font-weight="bold" stroke="#0a0a0a" stroke-width="0.35" fill="#0a0a0a">60</text>
<line x1="35" y1="307.54" x2="38" y2="307.54" stroke="#0a0a0a" stroke-width="1.3"/>
<text x="33.2" y="310.44" font-size="8" text-anchor="end" font-weight="bold" stroke="#0a0a0a" stroke-width="0.35" fill="#0a0a0a">70</text>
<text x="9.4" y="366.3" font-size="8.7" text-anchor="middle" font-weight="bold" stroke="#0a0a0a" stroke-width="0.35" transform="rotate(-90 9.4 366.3)" fill="#0a0a0a">Glucose Uptake</text>
<text x="19.8" y="366.3" font-size="8.7" text-anchor="middle" font-weight="bold" stroke="#0a0a0a" stroke-width="0.35" transform="rotate(-90 19.8 366.3)" fill="#0a0a0a">(µmol/100g/min)</text>
<text x="4.3" y="306.4" font-size="13" text-anchor="start" font-weight="bold" stroke="#0a0a0a" stroke-width="0.6" fill="#0a0a0a">F</text>
<defs><pattern id="h" width="2" height="2" patternUnits="userSpaceOnUse" patternTransform="rotate(45)"><rect width="2" height="2" fill="#fff"/><rect width="1" height="2" fill="#222"/></pattern></defs>
<line x1="44.75" y1="416.818" x2="44.75" y2="418.321" stroke="#0a0a0a" stroke-width="0.9"/>
<line x1="43.95" y1="416.818" x2="45.55" y2="416.818" stroke="#0a0a0a" stroke-width="0.9"/>
<rect x="41.75" y="418.32" width="6.00" height="6.68" fill="#fff" stroke="#0a0a0a" stroke-width="0.9"/>
<line x1="51.8" y1="409.804" x2="51.8" y2="412.142" stroke="#0a0a0a" stroke-width="0.9"/>
<line x1="51.0" y1="409.804" x2="52.599999999999994" y2="409.804" stroke="#0a0a0a" stroke-width="0.9"/>
<rect x="48.80" y="412.14" width="6.00" height="12.86" fill="#999" stroke="#0a0a0a" stroke-width="0.9"/>
<line x1="58.85" y1="408.134" x2="58.85" y2="410.305" stroke="#0a0a0a" stroke-width="0.9"/>
<line x1="58.050000000000004" y1="408.134" x2="59.65" y2="408.134" stroke="#0a0a0a" stroke-width="0.9"/>
<rect x="55.85" y="410.31" width="6.00" height="14.69" fill="url(#h)" stroke="#0a0a0a" stroke-width="0.9"/>
<line x1="65.9" y1="379.744" x2="65.9" y2="387.092" stroke="#0a0a0a" stroke-width="0.9"/>
<line x1="65.10000000000001" y1="379.744" x2="66.7" y2="379.744" stroke="#0a0a0a" stroke-width="0.9"/>
<rect x="62.90" y="387.09" width="6.00" height="37.91" fill="#000" stroke="#0a0a0a" stroke-width="0.9"/>
<line x1="80.25" y1="413.144" x2="80.25" y2="414.48" stroke="#0a0a0a" stroke-width="0.9"/>
<line x1="79.45" y1="413.144" x2="81.05" y2="413.144" stroke="#0a0a0a" stroke-width="0.9"/>
<rect x="77.25" y="414.48" width="6.00" height="10.52" fill="#fff" stroke="#0a0a0a" stroke-width="0.9"/>
<line x1="87.3" y1="392.102" x2="87.3" y2="396.444" stroke="#0a0a0a" stroke-width="0.9"/>
<line x1="86.5" y1="392.102" x2="88.1" y2="392.102" stroke="#0a0a0a" stroke-width="0.9"/>
<rect x="84.30" y="396.44" width="6.00" height="28.56" fill="#999" stroke="#0a0a0a" stroke-width="0.9"/>
<line x1="94.35" y1="405.295" x2="94.35" y2="409.47" stroke="#0a0a0a" stroke-width="0.9"/>
<line x1="93.55" y1="405.295" x2="95.14999999999999" y2="405.295" stroke="#0a0a0a" stroke-width="0.9"/>
<rect x="91.35" y="409.47" width="6.00" height="15.53" fill="url(#h)" stroke="#0a0a0a" stroke-width="0.9"/>
<line x1="101.4" y1="359.53700000000003" x2="101.4" y2="366.551" stroke="#0a0a0a" stroke-width="0.9"/>
<line x1="100.60000000000001" y1="359.53700000000003" x2="102.2" y2="359.53700000000003" stroke="#0a0a0a" stroke-width="0.9"/>
<rect x="98.40" y="366.55" width="6.00" height="58.45" fill="#000" stroke="#0a0a0a" stroke-width="0.9"/>
<line x1="115.4" y1="415.315" x2="115.4" y2="417.319" stroke="#0a0a0a" stroke-width="0.9"/>
<line x1="114.60000000000001" y1="415.315" x2="116.2" y2="415.315" stroke="#0a0a0a" stroke-width="0.9"/>
<rect x="112.40" y="417.32" width="6.00" height="7.68" fill="#fff" stroke="#0a0a0a" stroke-width="0.9"/>
<line x1="122.45" y1="376.571" x2="122.45" y2="390.265" stroke="#0a0a0a" stroke-width="0.9"/>
<line x1="121.65" y1="376.571" x2="123.25" y2="376.571" stroke="#0a0a0a" stroke-width="0.9"/>
<rect x="119.45" y="390.26" width="6.00" height="34.74" fill="#999" stroke="#0a0a0a" stroke-width="0.9"/>
<line x1="129.5" y1="408.635" x2="129.5" y2="413.645" stroke="#0a0a0a" stroke-width="0.9"/>
<line x1="128.7" y1="408.635" x2="130.3" y2="408.635" stroke="#0a0a0a" stroke-width="0.9"/>
<rect x="126.50" y="413.64" width="6.00" height="11.36" fill="url(#h)" stroke="#0a0a0a" stroke-width="0.9"/>
<line x1="136.55" y1="392.77" x2="136.55" y2="397.78" stroke="#0a0a0a" stroke-width="0.9"/>
<line x1="135.75" y1="392.77" x2="137.35000000000002" y2="392.77" stroke="#0a0a0a" stroke-width="0.9"/>
<rect x="133.55" y="397.78" width="6.00" height="27.22" fill="#000" stroke="#0a0a0a" stroke-width="0.9"/>
<line x1="151.0" y1="402.122" x2="151.0" y2="405.796" stroke="#0a0a0a" stroke-width="0.9"/>
<line x1="150.2" y1="402.122" x2="151.8" y2="402.122" stroke="#0a0a0a" stroke-width="0.9"/>
<rect x="148.00" y="405.80" width="6.00" height="19.20" fill="#fff" stroke="#0a0a0a" stroke-width="0.9"/>
<line x1="158.05" y1="379.744" x2="158.05" y2="383.251" stroke="#0a0a0a" stroke-width="0.9"/>
<line x1="157.25" y1="379.744" x2="158.85000000000002" y2="379.744" stroke="#0a0a0a" stroke-width="0.9"/>
<rect x="155.05" y="383.25" width="6.00" height="41.75" fill="#999" stroke="#0a0a0a" stroke-width="0.9"/>
<line x1="165.1" y1="394.774" x2="165.1" y2="401.12" stroke="#0a0a0a" stroke-width="0.9"/>
<line x1="164.29999999999998" y1="394.774" x2="165.9" y2="394.774" stroke="#0a0a0a" stroke-width="0.9"/>
<rect x="162.10" y="401.12" width="6.00" height="23.88" fill="url(#h)" stroke="#0a0a0a" stroke-width="0.9"/>
<line x1="172.15" y1="343.839" x2="172.15" y2="357.7" stroke="#0a0a0a" stroke-width="0.9"/>
<line x1="171.35" y1="343.839" x2="172.95000000000002" y2="343.839" stroke="#0a0a0a" stroke-width="0.9"/>
<rect x="169.15" y="357.70" width="6.00" height="67.30" fill="#000" stroke="#0a0a0a" stroke-width="0.9"/>
<line x1="186.5" y1="392.77" x2="186.5" y2="397.112" stroke="#0a0a0a" stroke-width="0.9"/>
<line x1="185.7" y1="392.77" x2="187.3" y2="392.77" stroke="#0a0a0a" stroke-width="0.9"/>
<rect x="183.50" y="397.11" width="6.00" height="27.89" fill="#fff" stroke="#0a0a0a" stroke-width="0.9"/>
<line x1="193.55" y1="323.799" x2="193.55" y2="338.829" stroke="#0a0a0a" stroke-width="0.9"/>
<line x1="192.75" y1="323.799" x2="194.35000000000002" y2="323.799" stroke="#0a0a0a" stroke-width="0.9"/>
<rect x="190.55" y="338.83" width="6.00" height="86.17" fill="#999" stroke="#0a0a0a" stroke-width="0.9"/>
<line x1="200.6" y1="403.625" x2="200.6" y2="408.301" stroke="#0a0a0a" stroke-width="0.9"/>
<line x1="199.79999999999998" y1="403.625" x2="201.4" y2="403.625" stroke="#0a0a0a" stroke-width="0.9"/>
<rect x="197.60" y="408.30" width="6.00" height="16.70" fill="url(#h)" stroke="#0a0a0a" stroke-width="0.9"/>
<line x1="207.65" y1="321.294" x2="207.65" y2="338.161" stroke="#0a0a0a" stroke-width="0.9"/>
<line x1="206.85" y1="321.294" x2="208.45000000000002" y2="321.294" stroke="#0a0a0a" stroke-width="0.9"/>
<rect x="204.65" y="338.16" width="6.00" height="86.84" fill="#000" stroke="#0a0a0a" stroke-width="0.9"/>
<line x1="37.5" y1="425.0" x2="215" y2="425.0" stroke="#0a0a0a" stroke-width="1.3"/>
<line x1="55.199999999999996" y1="425.0" x2="55.199999999999996" y2="428.2" stroke="#0a0a0a" stroke-width="1.3"/>
<text x="55.4" y="435.9" font-size="8.2" text-anchor="middle" font-weight="bold" stroke="#0a0a0a" stroke-width="0.35" fill="#0a0a0a">White</text>
<text x="55.4" y="444.9" font-size="8.2" text-anchor="middle" font-weight="bold" stroke="#0a0a0a" stroke-width="0.35" fill="#0a0a0a">Quad</text>
<text x="55.4" y="456.2" font-size="8.8" text-anchor="middle" font-weight="bold" stroke="#0a0a0a" stroke-width="0.35" fill="#0a0a0a">‡,†</text>
<line x1="90.0" y1="425.0" x2="90.0" y2="428.2" stroke="#0a0a0a" stroke-width="1.3"/>
<text x="90.2" y="435.9" font-size="8.2" text-anchor="middle" font-weight="bold" stroke="#0a0a0a" stroke-width="0.35" fill="#0a0a0a">Red</text>
<text x="90.2" y="444.9" font-size="8.2" text-anchor="middle" font-weight="bold" stroke="#0a0a0a" stroke-width="0.35" fill="#0a0a0a">Quad</text>
<text x="90.2" y="456.2" font-size="8.8" text-anchor="middle" font-weight="bold" stroke="#0a0a0a" stroke-width="0.35" fill="#0a0a0a">‡,†,#</text>
<line x1="126.1" y1="425.0" x2="126.1" y2="428.2" stroke="#0a0a0a" stroke-width="1.3"/>
<text x="126.3" y="435.9" font-size="8.2" text-anchor="middle" font-weight="bold" stroke="#0a0a0a" stroke-width="0.35" fill="#0a0a0a">Soleus</text>
<text x="126.3" y="456.2" font-size="8.8" text-anchor="middle" font-weight="bold" stroke="#0a0a0a" stroke-width="0.35" fill="#0a0a0a">†</text>
<line x1="161.0" y1="425.0" x2="161.0" y2="428.2" stroke="#0a0a0a" stroke-width="1.3"/>
<text x="161.2" y="435.9" font-size="8.2" text-anchor="middle" font-weight="bold" stroke="#0a0a0a" stroke-width="0.35" fill="#0a0a0a">EDL</text>
<text x="161.2" y="456.2" font-size="8.8" text-anchor="middle" font-weight="bold" stroke="#0a0a0a" stroke-width="0.35" fill="#0a0a0a">†</text>
<line x1="196.3" y1="425.0" x2="196.3" y2="428.2" stroke="#0a0a0a" stroke-width="1.3"/>
<text x="196.5" y="435.9" font-size="8.2" text-anchor="middle" font-weight="bold" stroke="#0a0a0a" stroke-width="0.35" fill="#0a0a0a">BAT</text>
<text x="196.5" y="456.2" font-size="8.8" text-anchor="middle" font-weight="bold" stroke="#0a0a0a" stroke-width="0.35" fill="#0a0a0a">†</text>
<polyline points="80.5,405 80.5,384.5 87.5,384.5 87.5,391.3" fill="none" stroke="#0a0a0a" stroke-width="1"/>
<text x="84.3" y="381.7" font-size="5.7" text-anchor="middle" font-weight="bold" stroke="#0a0a0a" stroke-width="0.35" fill="#0a0a0a">0.053</text>
<polyline points="158.5,376.5 158.5,334.5 172.4,334.5 172.4,339" fill="none" stroke="#0a0a0a" stroke-width="1"/>
<text x="165.6" y="332" font-size="5.7" text-anchor="middle" font-weight="bold" stroke="#0a0a0a" stroke-width="0.35" fill="#0a0a0a">0.09</text>
<text x="64.2" y="379.3" font-size="7.5" text-anchor="middle" font-weight="bold" stroke="#0a0a0a" stroke-width="0.35" fill="#0a0a0a">*</text>
<rect x="67.30" y="373.40" width="3.1999999999999997" height="3.1999999999999997" fill="#fff" stroke="#0a0a0a" stroke-width="0.9"/>
<text x="99.3" y="358.8" font-size="7.5" text-anchor="middle" font-weight="bold" stroke="#0a0a0a" stroke-width="0.35" fill="#0a0a0a">*</text>
<rect x="102.30" y="353.10" width="3.1999999999999997" height="3.1999999999999997" fill="#fff" stroke="#0a0a0a" stroke-width="0.9"/>
<text x="122.3" y="376.5" font-size="7.5" text-anchor="middle" font-weight="bold" stroke="#0a0a0a" stroke-width="0.35" fill="#0a0a0a">*</text>
<text x="158.3" y="381.5" font-size="5" text-anchor="middle" font-weight="bold" stroke="#0a0a0a" stroke-width="0.35" fill="#0a0a0a">*</text>
<text x="172.2" y="345.6" font-size="7.5" text-anchor="middle" font-weight="bold" stroke="#0a0a0a" stroke-width="0.35" fill="#0a0a0a">*</text>
<text x="193.2" y="322.3" font-size="7.5" text-anchor="middle" font-weight="bold" stroke="#0a0a0a" stroke-width="0.35" fill="#0a0a0a">*</text>
<text x="207.4" y="321.2" font-size="7.5" text-anchor="middle" font-weight="bold" stroke="#0a0a0a" stroke-width="0.35" fill="#0a0a0a">*</text>
<rect x="224.60" y="338.10" width="5.00" height="4.80" fill="#fff" stroke="#0a0a0a" stroke-width="0.9"/>
<text x="238.7" y="343.5" font-size="9" text-anchor="start" stroke="#0a0a0a" stroke-width="0.22" fill="#0a0a0a">Vehicle + Saline</text>
<rect x="224.60" y="352.55" width="5.00" height="4.80" fill="#999" stroke="#0a0a0a" stroke-width="0.9"/>
<text x="238.7" y="357.95" font-size="9" text-anchor="start" stroke="#0a0a0a" stroke-width="0.22" fill="#0a0a0a">Vehicle + Insulin</text>
<rect x="224.60" y="367.00" width="5.00" height="4.80" fill="url(#h)" stroke="#0a0a0a" stroke-width="0.9"/>
<text x="238.7" y="372.4" font-size="9" text-anchor="start" stroke="#0a0a0a" stroke-width="0.22" fill="#0a0a0a">Comp A + Saline</text>
<rect x="224.60" y="381.45" width="5.00" height="4.80" fill="#000" stroke="#0a0a0a" stroke-width="0.9"/>
<text x="238.7" y="386.85" font-size="9" text-anchor="start" stroke="#0a0a0a" stroke-width="0.22" fill="#0a0a0a">Comp A + Insulin</text>
</svg>
</body></html>
